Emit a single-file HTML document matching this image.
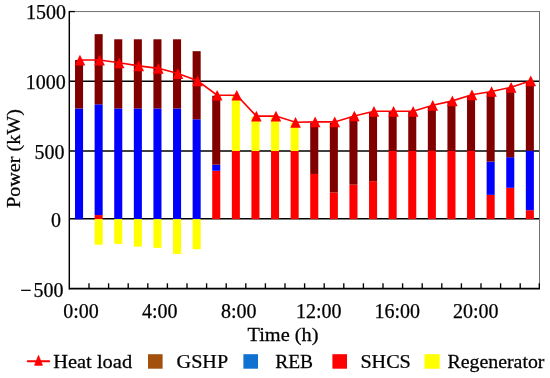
<!DOCTYPE html>
<html><head><meta charset="utf-8"><title>Power chart</title>
<style>
html,body{margin:0;padding:0;background:#fff;}
svg{display:block;}
text{font-family:"Liberation Serif",serif;font-size:20px;fill:#000;stroke:#000;stroke-width:0.25px;}
</style></head>
<body>
<svg width="550" height="378" viewBox="0 0 550 378">
<rect width="550" height="378" fill="#fff"/>
<line x1="69.4" x2="539.4" y1="81.26" y2="81.26" stroke="#000" stroke-width="1.5"/>
<line x1="69.4" x2="539.4" y1="150.95" y2="150.95" stroke="#000" stroke-width="1.5"/>
<line x1="69.4" x2="539.4" y1="218.75" y2="218.75" stroke="#000" stroke-width="1.5"/>
<rect x="75.02" y="108.48" width="8.05" height="110.72" fill="#0000ff"/>
<rect x="75.02" y="60.04" width="8.05" height="48.44" fill="#800000"/>
<rect x="94.62" y="215.05" width="8.05" height="4.05" fill="#ff0000"/>
<rect x="94.62" y="104.33" width="8.05" height="110.72" fill="#0000ff"/>
<rect x="94.62" y="34.16" width="8.05" height="70.17" fill="#800000"/>
<rect x="94.62" y="219.10" width="8.05" height="25.57" fill="#ffff00"/>
<rect x="114.22" y="108.48" width="8.05" height="110.72" fill="#0000ff"/>
<rect x="114.22" y="39.28" width="8.05" height="69.20" fill="#800000"/>
<rect x="114.22" y="219.10" width="8.05" height="24.74" fill="#ffff00"/>
<rect x="133.83" y="108.48" width="8.05" height="110.72" fill="#0000ff"/>
<rect x="133.83" y="39.28" width="8.05" height="69.20" fill="#800000"/>
<rect x="133.83" y="219.10" width="8.05" height="27.50" fill="#ffff00"/>
<rect x="153.42" y="108.48" width="8.05" height="110.72" fill="#0000ff"/>
<rect x="153.42" y="39.28" width="8.05" height="69.20" fill="#800000"/>
<rect x="153.42" y="219.10" width="8.05" height="28.75" fill="#ffff00"/>
<rect x="173.03" y="108.48" width="8.05" height="110.72" fill="#0000ff"/>
<rect x="173.03" y="39.28" width="8.05" height="69.20" fill="#800000"/>
<rect x="173.03" y="219.10" width="8.05" height="34.84" fill="#ffff00"/>
<rect x="192.62" y="119.28" width="8.05" height="99.92" fill="#0000ff"/>
<rect x="192.62" y="51.18" width="8.05" height="68.09" fill="#800000"/>
<rect x="192.62" y="219.10" width="8.05" height="30.13" fill="#ffff00"/>
<rect x="212.22" y="170.76" width="8.05" height="48.34" fill="#ff0000"/>
<rect x="212.22" y="164.67" width="8.05" height="6.09" fill="#0000ff"/>
<rect x="212.22" y="95.75" width="8.05" height="68.92" fill="#800000"/>
<rect x="231.83" y="150.97" width="8.05" height="68.13" fill="#ff0000"/>
<rect x="231.83" y="96.02" width="8.05" height="54.94" fill="#ffff00"/>
<rect x="251.43" y="150.97" width="8.05" height="68.13" fill="#ff0000"/>
<rect x="251.43" y="116.92" width="8.05" height="34.05" fill="#ffff00"/>
<rect x="271.03" y="150.97" width="8.05" height="68.13" fill="#ff0000"/>
<rect x="271.03" y="116.92" width="8.05" height="34.05" fill="#ffff00"/>
<rect x="290.62" y="150.97" width="8.05" height="68.13" fill="#ff0000"/>
<rect x="290.62" y="123.01" width="8.05" height="27.96" fill="#ffff00"/>
<rect x="310.23" y="173.94" width="8.05" height="45.16" fill="#ff0000"/>
<rect x="310.23" y="122.74" width="8.05" height="51.21" fill="#800000"/>
<rect x="329.83" y="192.49" width="8.05" height="26.61" fill="#ff0000"/>
<rect x="329.83" y="122.74" width="8.05" height="69.75" fill="#800000"/>
<rect x="349.43" y="184.60" width="8.05" height="34.50" fill="#ff0000"/>
<rect x="349.43" y="116.78" width="8.05" height="67.82" fill="#800000"/>
<rect x="369.03" y="181.14" width="8.05" height="37.96" fill="#ff0000"/>
<rect x="369.03" y="112.08" width="8.05" height="69.06" fill="#800000"/>
<rect x="388.63" y="150.97" width="8.05" height="68.13" fill="#ff0000"/>
<rect x="388.63" y="112.08" width="8.05" height="38.89" fill="#800000"/>
<rect x="408.23" y="150.97" width="8.05" height="68.13" fill="#ff0000"/>
<rect x="408.23" y="112.08" width="8.05" height="38.89" fill="#800000"/>
<rect x="427.83" y="150.97" width="8.05" height="68.13" fill="#ff0000"/>
<rect x="427.83" y="106.27" width="8.05" height="44.70" fill="#800000"/>
<rect x="447.43" y="150.97" width="8.05" height="68.13" fill="#ff0000"/>
<rect x="447.43" y="101.84" width="8.05" height="49.13" fill="#800000"/>
<rect x="467.03" y="150.97" width="8.05" height="68.13" fill="#ff0000"/>
<rect x="467.03" y="95.75" width="8.05" height="55.22" fill="#800000"/>
<rect x="486.63" y="194.84" width="8.05" height="24.26" fill="#ff0000"/>
<rect x="486.63" y="161.63" width="8.05" height="33.22" fill="#0000ff"/>
<rect x="486.63" y="92.43" width="8.05" height="69.20" fill="#800000"/>
<rect x="506.23" y="187.78" width="8.05" height="31.32" fill="#ff0000"/>
<rect x="506.23" y="157.20" width="8.05" height="30.59" fill="#0000ff"/>
<rect x="506.23" y="88.14" width="8.05" height="69.06" fill="#800000"/>
<rect x="525.83" y="210.20" width="8.05" height="8.90" fill="#ff0000"/>
<rect x="525.83" y="150.69" width="8.05" height="59.51" fill="#0000ff"/>
<rect x="525.83" y="81.63" width="8.05" height="69.06" fill="#800000"/>
<line x1="69.4" x2="540" y1="11.55" y2="11.55" stroke="#707070" stroke-width="1"/>
<line x1="539.5" x2="539.5" y1="11.05" y2="288.65" stroke="#707070" stroke-width="1"/>
<line x1="69.3" x2="69.3" y1="10.9" y2="289.54999999999995" stroke="#000" stroke-width="1.45"/>
<line x1="69.3" x2="540" y1="288.65" y2="288.65" stroke="#000" stroke-width="1.8"/>
<line x1="69.3" x2="74.9" y1="11.55" y2="11.55" stroke="#000" stroke-width="1.3"/>
<line x1="89.00" x2="89.00" y1="283.3" y2="288.65" stroke="#000" stroke-width="1.35"/>
<line x1="108.60" x2="108.60" y1="283.3" y2="288.65" stroke="#000" stroke-width="1.35"/>
<line x1="128.20" x2="128.20" y1="283.3" y2="288.65" stroke="#000" stroke-width="1.35"/>
<line x1="147.80" x2="147.80" y1="283.3" y2="288.65" stroke="#000" stroke-width="1.35"/>
<line x1="167.40" x2="167.40" y1="283.3" y2="288.65" stroke="#000" stroke-width="1.35"/>
<line x1="187.00" x2="187.00" y1="283.3" y2="288.65" stroke="#000" stroke-width="1.35"/>
<line x1="206.60" x2="206.60" y1="283.3" y2="288.65" stroke="#000" stroke-width="1.35"/>
<line x1="226.20" x2="226.20" y1="283.3" y2="288.65" stroke="#000" stroke-width="1.35"/>
<line x1="245.80" x2="245.80" y1="283.3" y2="288.65" stroke="#000" stroke-width="1.35"/>
<line x1="265.40" x2="265.40" y1="283.3" y2="288.65" stroke="#000" stroke-width="1.35"/>
<line x1="285.00" x2="285.00" y1="283.3" y2="288.65" stroke="#000" stroke-width="1.35"/>
<line x1="304.60" x2="304.60" y1="283.3" y2="288.65" stroke="#000" stroke-width="1.35"/>
<line x1="324.20" x2="324.20" y1="283.3" y2="288.65" stroke="#000" stroke-width="1.35"/>
<line x1="343.80" x2="343.80" y1="283.3" y2="288.65" stroke="#000" stroke-width="1.35"/>
<line x1="363.40" x2="363.40" y1="283.3" y2="288.65" stroke="#000" stroke-width="1.35"/>
<line x1="383.00" x2="383.00" y1="283.3" y2="288.65" stroke="#000" stroke-width="1.35"/>
<line x1="402.60" x2="402.60" y1="283.3" y2="288.65" stroke="#000" stroke-width="1.35"/>
<line x1="422.20" x2="422.20" y1="283.3" y2="288.65" stroke="#000" stroke-width="1.35"/>
<line x1="441.80" x2="441.80" y1="283.3" y2="288.65" stroke="#000" stroke-width="1.35"/>
<line x1="461.40" x2="461.40" y1="283.3" y2="288.65" stroke="#000" stroke-width="1.35"/>
<line x1="481.00" x2="481.00" y1="283.3" y2="288.65" stroke="#000" stroke-width="1.35"/>
<line x1="500.60" x2="500.60" y1="283.3" y2="288.65" stroke="#000" stroke-width="1.35"/>
<line x1="520.20" x2="520.20" y1="283.3" y2="288.65" stroke="#000" stroke-width="1.35"/>
<line x1="539.30" x2="539.30" y1="283.3" y2="288.65" stroke="#000" stroke-width="1.35"/>
<polyline fill="none" stroke="#ff0000" stroke-width="1.6" points="79.95,60.04 99.55,60.04 119.15,62.81 138.75,65.85 158.35,68.34 177.95,73.60 197.55,80.80 217.15,95.19 236.75,95.19 256.35,116.09 275.95,116.09 295.55,122.32 315.15,121.90 334.75,121.90 354.35,115.95 373.95,111.25 393.55,111.25 413.15,111.25 432.75,105.30 452.35,100.87 471.95,94.78 491.55,91.46 511.15,87.30 530.75,80.80"/>
<polygon fill="#ff0000" points="79.95,54.74 74.65,65.44 85.25,65.44"/>
<polygon fill="#ff0000" points="99.55,54.74 94.25,65.44 104.85,65.44"/>
<polygon fill="#ff0000" points="119.15,57.51 113.85,68.21 124.45,68.21"/>
<polygon fill="#ff0000" points="138.75,60.55 133.45,71.25 144.05,71.25"/>
<polygon fill="#ff0000" points="158.35,63.04 153.05,73.74 163.65,73.74"/>
<polygon fill="#ff0000" points="177.95,68.30 172.65,79.00 183.25,79.00"/>
<polygon fill="#ff0000" points="197.55,75.50 192.25,86.20 202.85,86.20"/>
<polygon fill="#ff0000" points="217.15,89.89 211.85,100.59 222.45,100.59"/>
<polygon fill="#ff0000" points="236.75,89.89 231.45,100.59 242.05,100.59"/>
<polygon fill="#ff0000" points="256.35,110.79 251.05,121.49 261.65,121.49"/>
<polygon fill="#ff0000" points="275.95,110.79 270.65,121.49 281.25,121.49"/>
<polygon fill="#ff0000" points="295.55,117.02 290.25,127.72 300.85,127.72"/>
<polygon fill="#ff0000" points="315.15,116.60 309.85,127.30 320.45,127.30"/>
<polygon fill="#ff0000" points="334.75,116.60 329.45,127.30 340.05,127.30"/>
<polygon fill="#ff0000" points="354.35,110.65 349.05,121.35 359.65,121.35"/>
<polygon fill="#ff0000" points="373.95,105.95 368.65,116.65 379.25,116.65"/>
<polygon fill="#ff0000" points="393.55,105.95 388.25,116.65 398.85,116.65"/>
<polygon fill="#ff0000" points="413.15,105.95 407.85,116.65 418.45,116.65"/>
<polygon fill="#ff0000" points="432.75,100.00 427.45,110.70 438.05,110.70"/>
<polygon fill="#ff0000" points="452.35,95.57 447.05,106.27 457.65,106.27"/>
<polygon fill="#ff0000" points="471.95,89.48 466.65,100.18 477.25,100.18"/>
<polygon fill="#ff0000" points="491.55,86.16 486.25,96.86 496.85,96.86"/>
<polygon fill="#ff0000" points="511.15,82.00 505.85,92.70 516.45,92.70"/>
<polygon fill="#ff0000" points="530.75,75.50 525.45,86.20 536.05,86.20"/>
<text x="65.9" y="19.0" text-anchor="end">1500</text>
<text x="65.8" y="89.0" text-anchor="end">1000</text>
<text x="64.4" y="158.6" text-anchor="end">500</text>
<text x="61.0" y="227.0" text-anchor="end">0</text>
<text x="63.4" y="296.6" text-anchor="end">500</text>
<text x="20.3" y="296.6" text-anchor="start">−</text>
<text x="81" y="318.2" text-anchor="middle">0:00</text>
<text x="159.8" y="318.2" text-anchor="middle">4:00</text>
<text x="238.7" y="318.2" text-anchor="middle">8:00</text>
<text x="318.7" y="318.2" text-anchor="middle">12:00</text>
<text x="397.3" y="318.2" text-anchor="middle">16:00</text>
<text x="475.7" y="318.2" text-anchor="middle">20:00</text>
<text transform="translate(283.0,340.8) scale(1.05,1)" font-size="19.4" text-anchor="middle" style="font-size:19.4px">Time (h)</text>
<text transform="translate(20.1,158.5) rotate(-90) scale(1.03,1)" text-anchor="middle" style="font-size:19.6px">Power (kW)</text>
<line x1="27.8" x2="49.2" y1="361.2" y2="361.2" stroke="#ff0000" stroke-width="2" stroke-linecap="round"/>
<polygon fill="#ff0000" stroke="#ff0000" stroke-width="0.8" stroke-linejoin="round" points="38.5,355.4 34.6,365.3 42.4,365.3"/>
<text transform="translate(53.2,367.6) scale(1.06,1)" font-size="19.3" text-anchor="start" style="font-size:19.3px">Heat load</text>
<rect x="148" y="354.2" width="14.6" height="14.5" fill="#a3500d"/>
<text transform="translate(176.6,367.6) scale(1.045,1)" font-size="19.3" text-anchor="start" style="font-size:19.3px">GSHP</text>
<rect x="243.4" y="354.2" width="14.6" height="14.5" fill="#1072d0"/>
<text transform="translate(275.2,367.6) scale(1.01,1)" font-size="19.3" text-anchor="start" style="font-size:19.3px">REB</text>
<rect x="332.4" y="354.2" width="14.6" height="14.5" fill="#ff0000"/>
<text transform="translate(360.4,367.6) scale(1.045,1)" font-size="19.3" text-anchor="start" style="font-size:19.3px">SHCS</text>
<rect x="424.5" y="354.2" width="15.2" height="14.5" fill="#ffff00"/>
<text transform="translate(447.4,367.6) scale(1.03,1)" font-size="19.3" text-anchor="start" style="font-size:19.3px">Regenerator</text>
</svg>
</body></html>
